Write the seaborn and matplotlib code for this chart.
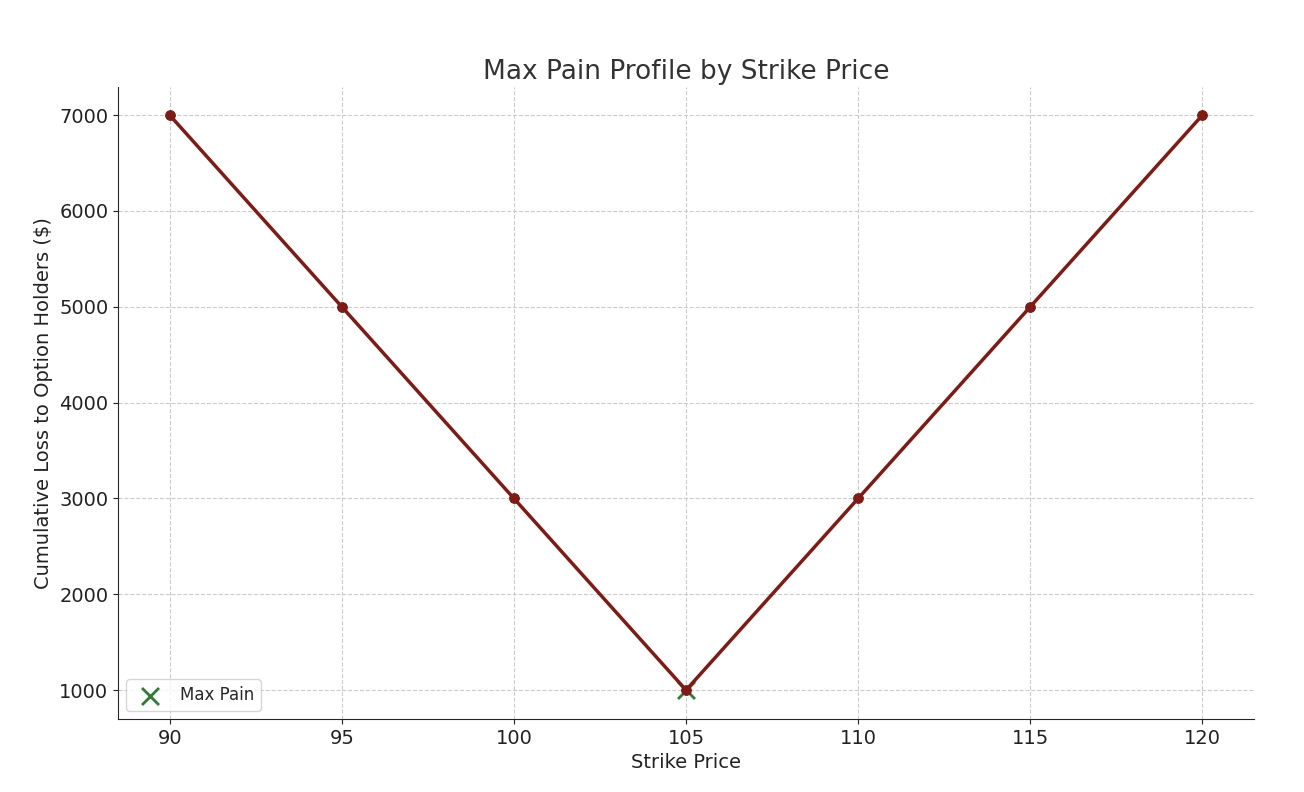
import matplotlib
matplotlib.use("Agg")
import matplotlib.pyplot as plt
import seaborn as sns
import pandas as pd

strikes = [90, 95, 100, 105, 110, 115, 120]
losses = [7000, 5000, 3000, 1000, 3000, 5000, 7000]
max_pain_strike = [105]
max_pain_loss = [1000]

sns.set_style("ticks")
plt.rcParams['font.family'] = ['DejaVu Sans']

fig = plt.figure(figsize=(13.04, 7.92), dpi=100)
ax = fig.add_axes([0.0905, 0.092, 0.8712, 0.798])

ax.grid(True, linestyle='--', color='#cccccc', linewidth=0.8)
ax.set_axisbelow(True)

sns.scatterplot(x=max_pain_strike, y=max_pain_loss, marker='x', s=150, color='#2e7d32',
                linewidth=2, label='Max Pain', ax=ax, zorder=2)
df = pd.DataFrame({'Strike': strikes, 'Loss': losses})
sns.lineplot(data=df, x='Strike', y='Loss', color='#7f1a14', linewidth=2.5, marker='o',
             markersize=7, markeredgecolor='#7f1a14', ax=ax, zorder=3)

ax.set_xlim(88.5, 121.5)
ax.set_ylim(697, 7292)
ax.set_xticks(strikes)
ax.set_yticks([1000, 2000, 3000, 4000, 5000, 6000, 7000])
ax.tick_params(labelsize=14, colors='#222222')
ax.set_xlabel('Strike Price', fontsize=14, color='#222222')
ax.set_ylabel('Cumulative Loss to Option Holders ($)', fontsize=14, color='#222222')
ax.set_title('Max Pain Profile by Strike Price', fontsize=19, color='#333333')
sns.despine(ax=ax)
ax.legend(loc='lower left', fontsize=12)

fig.savefig('out.png', dpi=100)
